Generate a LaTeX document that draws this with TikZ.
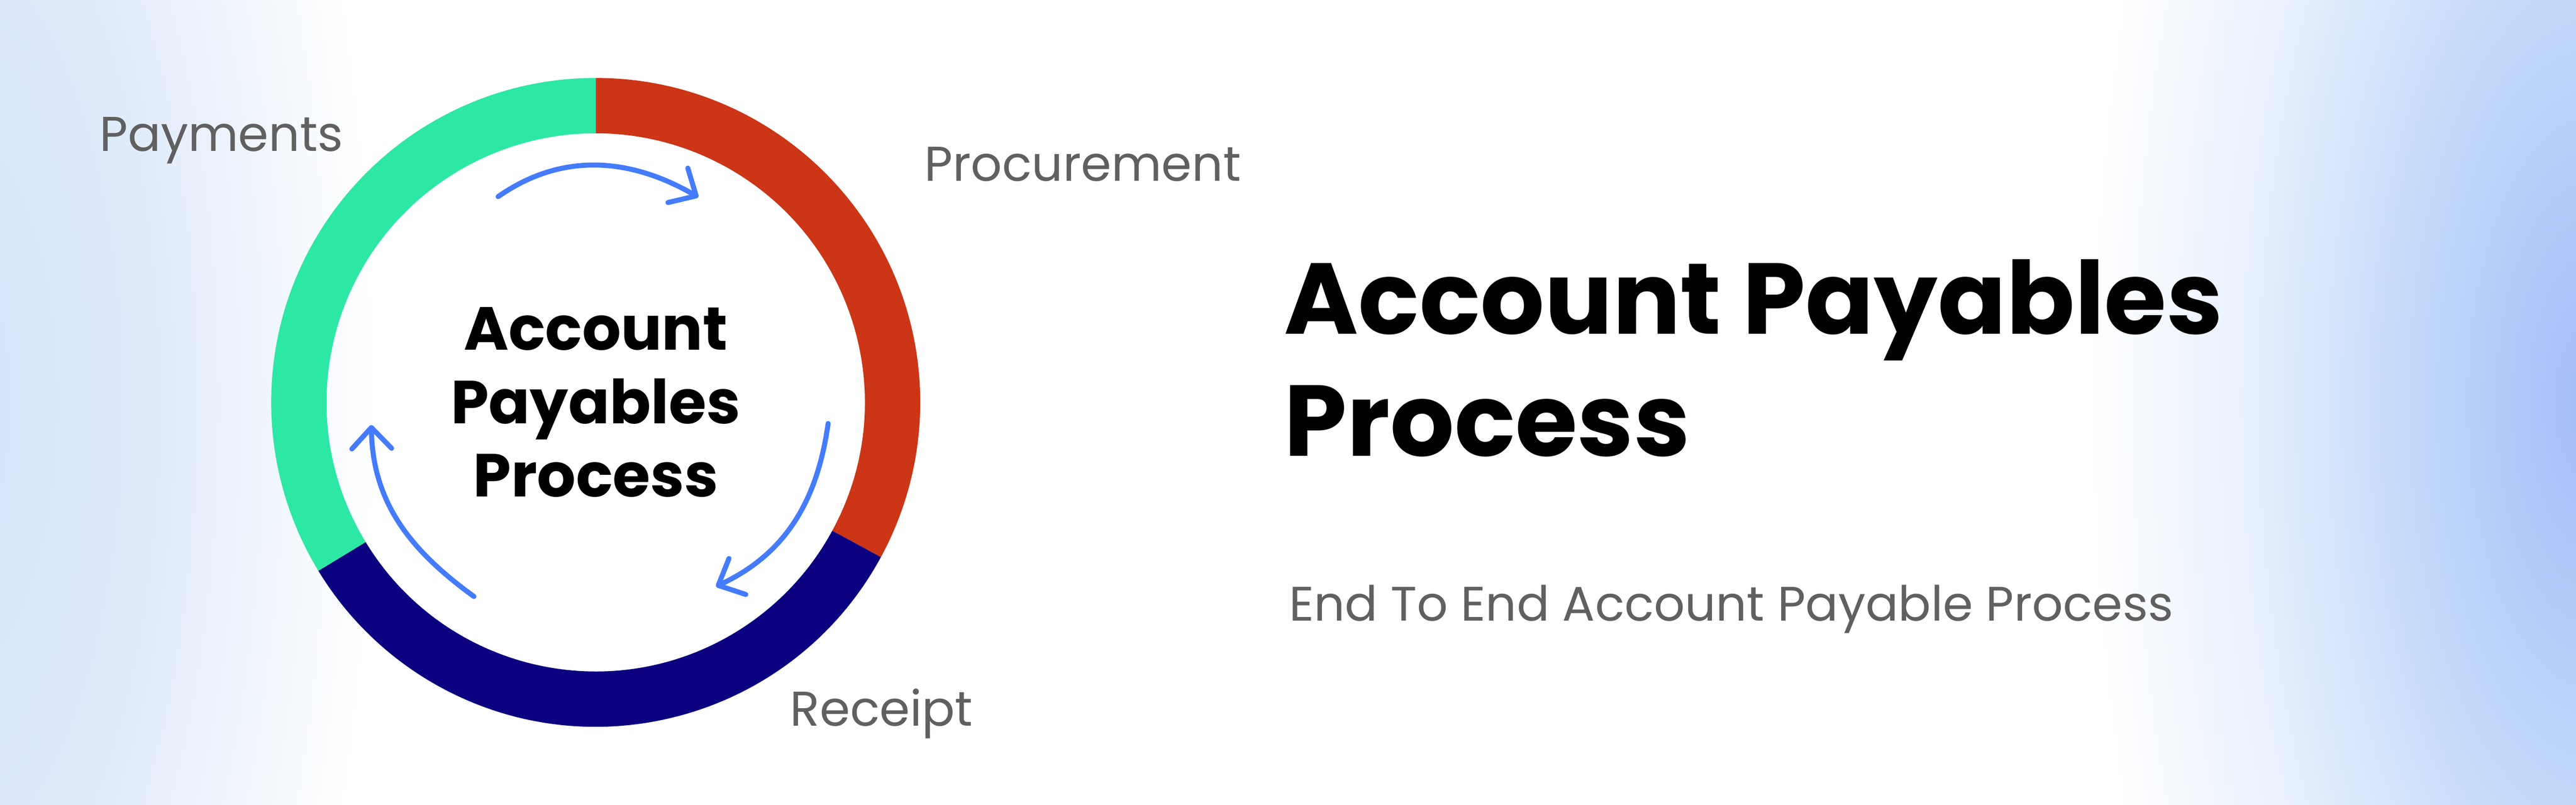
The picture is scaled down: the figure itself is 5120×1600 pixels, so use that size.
\documentclass[tikz,border=0pt]{standalone}
\usepackage{fontspec}
\setmainfont{Poppins}
\usetikzlibrary{arrows.meta}

\definecolor{apGreen}{HTML}{2DE8A4}
\definecolor{apRed}{HTML}{CC3516}
\definecolor{apNavy}{HTML}{0A0080}
\definecolor{apBlue}{HTML}{447BFF}
\definecolor{txtGray}{HTML}{606060}
\definecolor{bgBlue}{HTML}{A4BCF8}
\definecolor{bgMid}{HTML}{C2D9FA}
\definecolor{bgLeft}{HTML}{D2E2F8}

\pgfdeclareradialshading{bgright}{\pgfpoint{0bp}{0bp}}{color(0bp)=(bgBlue); color(9bp)=(bgMid); color(17bp)=(bgMid!40!white); color(25bp)=(white); color(50bp)=(white)}
\pgfdeclareradialshading{bgleft}{\pgfpoint{0bp}{0bp}}{color(0bp)=(bgLeft); color(12bp)=(bgLeft!70!white); color(25bp)=(white); color(50bp)=(white)}

\begin{document}
\begin{tikzpicture}[x=0.1mm,y=0.1mm]
  \tikzset{stage/.style = {text=txtGray, font=\fontsize{27.6}{33}\selectfont, anchor=base}}
  \tikzset{core/.style = {align=center, font=\fontsize{34.4}{41.5}\selectfont\bfseries}}
  \tikzset{flow/.style = {draw=apBlue, line width=1mm, line cap=round, -{Straight Barb[length=4.2mm,width=7.9mm,round]}}}

  % background
  \useasboundingbox (0,0) rectangle (5120,1600);
  \fill[white] (0,0) rectangle (5120,1600);
  \begin{scope}
    \clip (0,0) rectangle (5120,1600);
    \shade[shading=bgright] (5150,800) ellipse (1000 and 2300);
    \shade[shading=bgleft] (-100,800) ellipse (850 and 2200);
  \end{scope}

  % ring
  \coordinate (R) at (1184,800);
  \foreach \s/\e/\c in {90/211.3/apGreen, 90/-28.5/apRed, -28.5/-148.7/apNavy}
    \fill[\c] ([shift={(\s:645)}]R) arc[start angle=\s, end angle=\e, radius=645]
      -- ([shift={(\e:535)}]R) arc[start angle=\e, end angle=\s, radius=535] -- cycle;

  \node[core] (C) at (R) {Account\\Payables\\Process};

	\node[stage] (PAY) at (440,1299) {Payments};
	\node[stage] (PRO) at (2152,1240) {Procurement};
	\node[stage] (REC) at (1752,157) {Receipt};

  % arrows inside the ring
  \coordinate (a0) at (990,1209);  \coordinate (a1) at (1388,1208);
  \coordinate (b0) at (1646,758);  \coordinate (b1) at (1423,434);
  \coordinate (c0) at (942,414);   \coordinate (c1) at (738,755);
       \foreach \from/\to/\o/\i in {a0/a1/35/150, b0/b1/-98/25, c0/c1/144/-89}
    \draw[flow] (\from) to[out=\o,in=\i] (\to);

  % right side
  \node[anchor=west, align=left, font=\fontsize{57}{69}\selectfont\bfseries] (T) at (2540,888) {Account Payables\\Process};
  \node[anchor=base west, text=txtGray, font=\fontsize{27.4}{33}\selectfont] (ST) at (2550,366) {End To End Account Payable Process};
\end{tikzpicture}
\end{document}
